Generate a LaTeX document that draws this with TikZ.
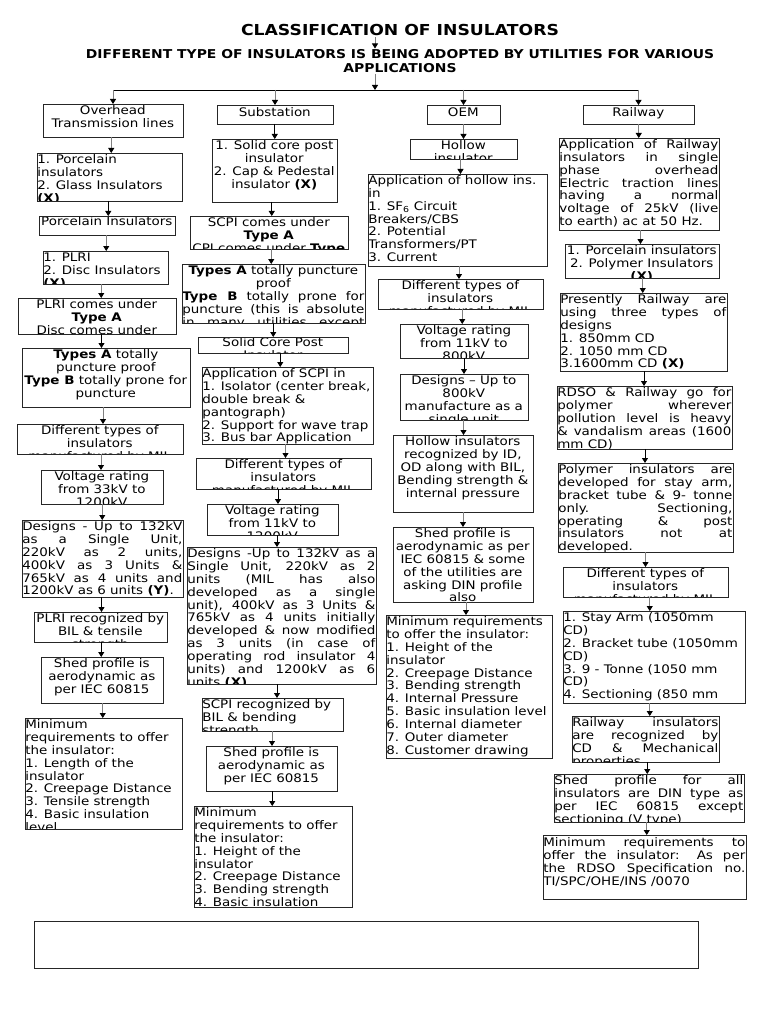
\documentclass[tikz,border=0pt]{standalone}
\usepackage{fontspec}
\setmainfont{DejaVu Sans}[FakeStretch=1.14]
\usetikzlibrary{arrows.meta,calc}
\newcommand\bodyfont{\fontsize{11.8}{12.9}\selectfont}
\newcommand\jl[1]{\makebox[\linewidth][s]{#1}\\}
\tikzset{
  ibx/.style={draw=black!85, line width=0.9pt, rectangle, inner sep=0pt, outer sep=0pt, fill=white},
  conn/.style={draw=black!50, line width=0.8pt, -{Triangle[width=6pt,length=5pt,black]}},
}
\newcommand\ibox[8][10.4]{%
  \pgfmathsetmacro\bw{#5-#3}\pgfmathsetmacro\bh{#6-#4}%
  \pgfmathsetmacro\cx{(#3+#5)/2}\pgfmathsetmacro\cy{(#4+#6)/2}%
  \pgfmathsetmacro\tw{#5-#3-1}%
  \node[ibx, minimum width=\bw pt, minimum height=\bh pt,
    path picture={\node[inner sep=0pt, outer sep=0pt, draw=none, fill=none,
      minimum width=0pt, minimum height=0pt, anchor=base west]
      at ([yshift=-#1pt, xshift=0.3pt]path picture bounding box.north west)
      {\parbox[t]{\tw pt}{\bodyfont #7#8}};}] (#2) at (\cx,\cy) {};}
\newcommand\cn[3][]{\path ($(#2.south)!.5!(#3.north)$) coordinate (cnm);
  \draw[conn,#1] (#2.south -| cnm) -- (#3.north -| cnm);}
\begin{document}
\begin{tikzpicture}[x=1pt,y=-1pt]
\fill[white] (0,0) rectangle (768,1024);
\useasboundingbox (0,0) rectangle (768,1024);
% header
\node[font=\fontsize{15.1}{18}\selectfont\bfseries, anchor=base, inner sep=1pt] (title) at (400,36) {CLASSIFICATION OF INSULATORS};
\node[font=\fontsize{12.2}{13.7}\selectfont\bfseries, align=center, anchor=north, inner sep=1pt] (sub) at (400,48.5)
  {DIFFERENT TYPE OF INSULATORS IS BEING ADOPTED BY UTILITIES FOR VARIOUS\\APPLICATIONS};
\coordinate (bus) at (375,90);
% category boxes
\ibox[11]{o1}{43}{104}{183}{137}{\centering}{Overhead\\Transmission lines}
\ibox[11.5]{subst}{217}{105}{333}{124}{\centering}{Substation}
\ibox[11.5]{oem}{427}{105}{500}{124}{\centering}{OEM}
\ibox[11.5]{rail}{583}{105}{694}{124}{\centering}{Railway}
% column 1
\ibox{c1b2}{37}{153}{182}{201}{\raggedright}{1. Porcelain\\insulators\\2. Glass Insulators\\\textbf{(X)}}
\ibox[9.8]{c1b3}{39}{216}{175}{235}{\centering}{Porcelain Insulators}
\ibox{c1b4}{43}{251}{168}{284}{\raggedright}{1. PLRI\\2. Disc Insulators\\\textbf{(X)}}
\ibox{c1b5}{18}{298}{176}{334}{\centering}{PLRI comes under\\\textbf{Type A}\\Disc comes under}
\ibox{c1b6}{22}{348}{190}{407}{\centering}{\textbf{Types A} totally\\puncture proof\\\textbf{Type B} totally prone for\\puncture}
\ibox{c1b7}{17}{424}{183}{454}{\centering}{Different types of\\insulators\\manufactured by MIL}
\ibox{c1b8}{41}{470}{163}{504}{\centering}{Voltage rating\\from 33kV to\\1200kV}
\ibox{c1b9}{22}{520}{183}{597}{}{\jl{Designs - Up to 132kV}\jl{as a Single Unit,}\jl{220kV as 2 units,}\jl{400kV as 3 Units \&}\jl{765kV as 4 units and}1200kV as 6 units \textbf{(Y)}.}
\ibox{c1b10}{34}{612}{167}{642}{\centering}{PLRI recognized by\\BIL \& tensile\\strength}
\ibox{c1b11}{41}{657}{163}{703}{\centering}{Shed profile is\\aerodynamic as\\per IEC 60815}
\ibox{c1b12}{25}{718}{182}{829}{\raggedright}{Minimum\\requirements to offer\\the insulator:\\1. Length of the\\insulator\\2. Creepage Distance\\3. Tensile strength\\4. Basic insulation\\level}
% column 2
\ibox{c2b2}{212}{139}{337}{202}{\centering}{1. Solid core post\\insulator\\2. Cap \& Pedestal\\insulator \textbf{(X)}}
\ibox{c2b3}{190}{216}{348}{249}{\centering}{SCPI comes under\\\textbf{Type A}\\CPI comes under \textbf{Type B}}
\ibox{c2b4}{182}{264}{365}{323}{}{{\centering\textbf{Types A} totally puncture\\proof\endgraf}\jl{\textbf{Type B} totally prone for}\jl{puncture (this is absolute}\jl{in many utilities except}}
\ibox[9.8]{c2b5}{198}{337}{348}{353}{\centering}{Solid Core Post\\Insulator}
\ibox{c2b6}{202}{367}{373}{444}{\raggedright}{Application of SCPI in\\1. Isolator (center break,\\double break \&\\pantograph)\\2. Support for wave trap\\3. Bus bar Application}
\ibox{c2b7}{196}{458}{371}{489}{\centering}{Different types of\\insulators\\manufactured by MIL}
\ibox{c2b8}{207}{504}{338}{535}{\centering}{Voltage rating\\from 11kV to\\1200kV}
\ibox{c2b9}{187}{547}{376}{684}{}{\jl{Designs -Up to 132kV as a}\jl{Single Unit, 220kV as 2}\jl{units (MIL has also}\jl{developed as a single}\jl{unit), 400kV as 3 Units \&}\jl{765kV as 4 units initially}\jl{developed \& now modified}\jl{as 3 units (in case of}\jl{operating rod insulator 4}\jl{units) and 1200kV as 6}units \textbf{(X)}}
\ibox{c2b10}{202}{698}{343}{731}{\raggedright}{SCPI recognized by\\BIL \& bending\\strength}
\ibox{c2b11}{206}{746}{337}{791}{\centering}{Shed profile is\\aerodynamic as\\per IEC 60815}
\ibox{c2b12}{194}{806}{352}{907}{\raggedright}{Minimum\\requirements to offer\\the insulator:\\1. Height of the\\insulator\\2. Creepage Distance\\3. Bending strength\\4. Basic insulation}
% column 3
\ibox[11]{c3b2}{410}{139}{517}{159}{\centering}{Hollow\\insulator}
\ibox{c3b3}{368}{174}{547}{266}{\raggedright}{Application of hollow ins.\\in\\1. SF\textsubscript{6} Circuit\\Breakers/CBS\\2. Potential\\Transformers/PT\\3. Current}
\ibox{c3b4}{378}{279}{543}{309}{\centering}{Different types of\\insulators\\manufactured by MIL}
\ibox{c3b5}{400}{324}{528}{358}{\centering}{Voltage rating\\from 11kV to\\800kV}
\ibox{c3b6}{400}{374}{528}{420}{\centering}{Designs – Up to\\800kV\\manufacture as a\\single unit}
\ibox{c3b7}{393}{435}{533}{512}{\centering}{Hollow insulators\\recognized by ID,\\OD along with BIL,\\Bending strength \&\\internal pressure}
\ibox{c3b8}{393}{527}{533}{602}{\centering}{Shed profile is\\aerodynamic as per\\IEC 60815 \& some\\of the utilities are\\asking DIN profile\\also}
\ibox{c3b9}{386}{615}{552}{758}{\raggedright}{Minimum requirements\\to offer the insulator:\\1. Height of the\\insulator\\2. Creepage Distance\\3. Bending strength\\4. Internal Pressure\\5. Basic insulation level\\6. Internal diameter\\7. Outer diameter\\8. Customer drawing}
% column 4
\ibox{c4b2}{559}{138}{719}{230}{}{\jl{Application of Railway}\jl{insulators in single}\jl{phase overhead}\jl{Electric traction lines}\jl{having a normal}\jl{voltage of 25kV (live}to earth) ac at 50 Hz.}
\ibox{c4b3}{565}{244}{719}{278}{\centering}{1. Porcelain insulators\\2. Polymer Insulators\\\textbf{(X)}}
\ibox{c4b4}{560}{293}{727}{371}{}{\jl{Presently Railway are}\jl{using three types of}designs\\1. 850mm CD\\2. 1050 mm CD\\3.1600mm CD \textbf{(X)}}
\ibox{c4b5}{557}{386}{732}{449}{}{\jl{RDSO \& Railway go for}\jl{polymer wherever}\jl{pollution level is heavy}\jl{\& vandalism areas (1600}mm CD)}
\ibox{c4b6}{558}{463}{733}{552}{}{\jl{Polymer insulators are}\jl{developed for stay arm,}\jl{bracket tube \& 9- tonne}\jl{only. Sectioning,}\jl{operating \& post}\jl{insulators not at}developed.}
\ibox{c4b7}{563}{567}{728}{597}{\centering}{Different types of\\insulators\\manufactured by MIL}
\ibox{c4b8}{563}{611}{745}{703}{\raggedright}{1. Stay Arm (1050mm\\CD)\\2. Bracket tube (1050mm\\CD)\\3. 9 - Tonne (1050 mm\\CD)\\4. Sectioning (850 mm}
\ibox{c4b9}{572}{716}{719}{762}{}{\jl{Railway insulators}\jl{are recognized by}\jl{CD \& Mechanical}properties}
\ibox{c4b10}{554}{774}{744}{822}{}{\jl{Shed profile for all}\jl{insulators are DIN type as}\jl{per IEC 60815 except}sectioning (V type)}
\ibox[11.5]{c4b11}{543}{835}{746}{899}{}{\jl{Minimum requirements to}\jl{offer the insulator: As per}\jl{the RDSO Specification no.}TI/SPC/OHE/INS /0070}
% bottom box
\node[ibx, minimum width=664pt, minimum height=47pt] (note) at (366,944.5) {};
% header connectors
\draw[conn] (title.south -| bus) -- (sub.north -| bus);
\draw[conn] (sub.south -| bus) -- (bus);
\draw[line width=0.9pt, black] (bus -| o1) -- (bus -| rail);
\draw[conn] (bus -| o1) -- (o1.north);
\draw[conn] (bus -| subst) -- (subst.north);
\draw[conn] (bus -| oem) -- (oem.north);
\draw[conn] (bus -| rail) -- (rail.north);
% column connectors
\cn{o1}{c1b2} \cn[draw=black]{c1b2}{c1b3} \cn{c1b3}{c1b4} \cn{c1b4}{c1b5}
\cn[draw=black]{c1b5}{c1b6} \cn{c1b6}{c1b7} \cn{c1b7}{c1b8} \cn{c1b8}{c1b9}
\cn[draw=black]{c1b9}{c1b10} \cn[draw=black]{c1b10}{c1b11} \cn{c1b11}{c1b12}
\cn[draw=black]{subst}{c2b2} \cn[draw=black]{c2b2}{c2b3} \cn{c2b3}{c2b4} \cn[draw=black]{c2b4}{c2b5}
\cn[draw=black]{c2b5}{c2b6} \cn{c2b6}{c2b7} \cn[draw=black]{c2b7}{c2b8} \cn[draw=black]{c2b8}{c2b9}
\cn[draw=black]{c2b9}{c2b10} \cn{c2b10}{c2b11} \cn[draw=black]{c2b11}{c2b12}
\cn{oem}{c3b2} \cn{c3b2}{c3b3} \cn{c3b3}{c3b4} \cn{c3b4}{c3b5} \cn[draw=black]{c3b5}{c3b6}
\cn{c3b6}{c3b7} \cn{c3b7}{c3b8} \cn{c3b8}{c3b9}
\cn{rail}{c4b2} \cn{c4b2}{c4b3} \cn{c4b3}{c4b4} \cn[draw=black]{c4b4}{c4b5} \cn[draw=black]{c4b5}{c4b6}
\cn{c4b6}{c4b7} \cn{c4b7}{c4b8} \cn{c4b8}{c4b9} \cn[draw=black]{c4b9}{c4b10} \cn{c4b10}{c4b11}
\end{tikzpicture}
\end{document}
